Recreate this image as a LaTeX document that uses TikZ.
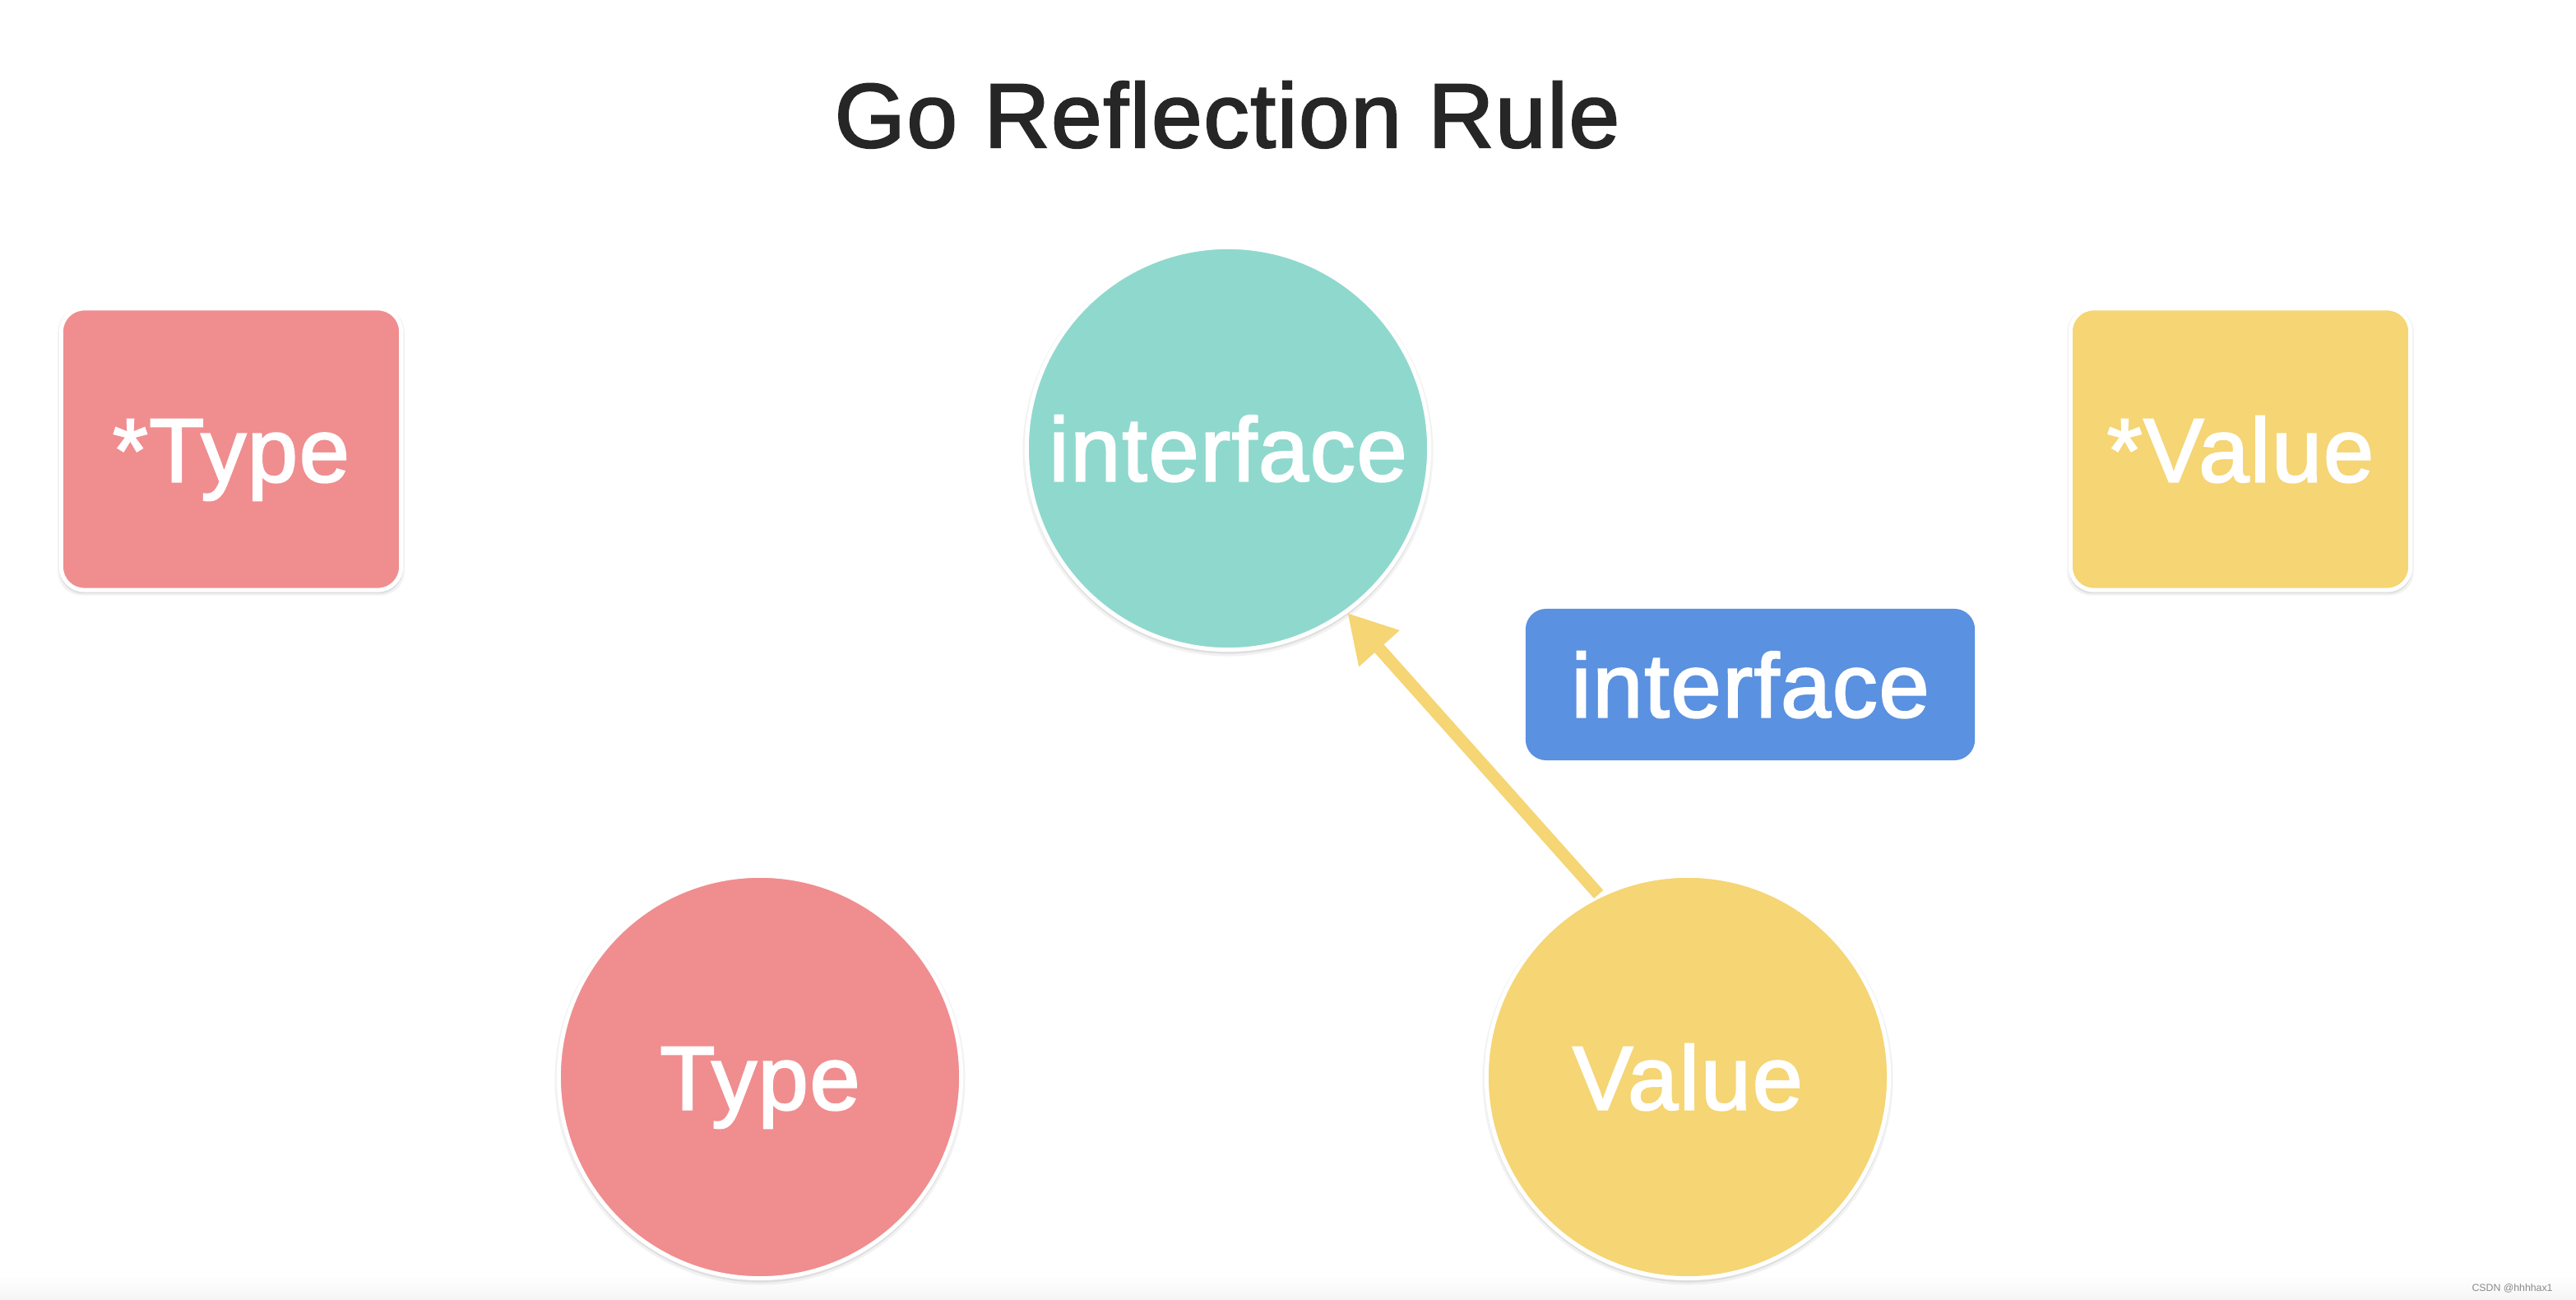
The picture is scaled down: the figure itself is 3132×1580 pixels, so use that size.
\documentclass[tikz,border=0pt]{standalone}
\usepackage{fontspec}
\setmainfont{Liberation Sans}
\newfontfamily\heavyfont{Liberation Sans}[FakeBold=2,LetterSpace=1.5]
\usetikzlibrary{arrows.meta,shadows}
\definecolor{pinkc}{HTML}{F08D8F}
\definecolor{tealc}{HTML}{8FD8CD}
\definecolor{yellowc}{HTML}{F5D574}
\definecolor{bluec}{HTML}{5A91E0}
\definecolor{titlec}{HTML}{262626}
\definecolor{footc}{HTML}{8A8A8A}
\begin{document}
\begin{tikzpicture}[x=0.01cm,y=-0.01cm,
  lbl/.style={text=white,font=\heavyfont\fontsize{31.3pt}{36pt}\selectfont,text height=0.79cm,text depth=0cm},
  shd/.style={general shadow={fill=black,opacity=0.05,shadow scale=1.02,shadow yshift=-0.03cm},
              general shadow={fill=black,opacity=0.08,shadow scale=1.008,shadow yshift=-0.03cm}},
  sqbox/.style={lbl,shd,rectangle,rounded corners=0.28cm,draw=white,line width=0.05cm,minimum width=4.13cm,minimum height=3.42cm,inner sep=0pt},
  circbox/.style={lbl,shd,circle,draw=white,line width=0.05cm,minimum size=4.89cm,inner sep=0pt},
  tagbox/.style={lbl,rectangle,rounded corners=0.25cm,fill=bluec,minimum width=5.46cm,minimum height=1.84cm,inner sep=0pt},
  link/.style={draw=yellowc,line width=0.15cm,-{Triangle[length=0.58cm,width=0.62cm]}}
]
\useasboundingbox (0,0) rectangle (3132,1580);
\fill[white] (0,0) rectangle (3132,1580);
\shade[top color=white,bottom color=black!4] (0,1550) rectangle (3132,1580);

\node[anchor=base,text=titlec,font=\heavyfont\fontsize{31.5pt}{36pt}\selectfont] (title) at (1492,179) {Go Reflection Rule};

\node[sqbox,fill=pinkc] (ptype) at (281,546) {*Type};
\node[sqbox,fill=yellowc] (pvalue) at (2724,546) {*Value};
\node[circbox,fill=tealc] (iface) at (1493,545) {interface};
\node[tagbox] (tag) at (2128,832) {interface};
\node[circbox,fill=pinkc] (type) at (924,1309) {Type};
\node[circbox,fill=yellowc] (value) at (2052,1309) {Value};

\draw[link] (value.116) -- (iface.306.5);

\node[anchor=base east,text=footc,font=\fontsize{3.5pt}{4pt}\selectfont] (foot) at (3116,1570) {CSDN @hhhhax1};
\end{tikzpicture}
\end{document}
